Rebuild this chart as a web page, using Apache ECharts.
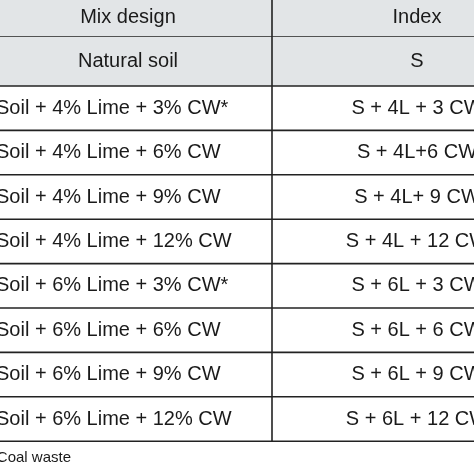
<!DOCTYPE html><html><head><meta charset="utf-8"><script src="https://cdn.jsdelivr.net/npm/echarts@6/dist/echarts.min.js"></script>
<style>html,body{margin:0;padding:0;background:#fff}#c{width:474px;height:474px}</style></head><body><div id="c"></div>
<script>
const headers = ["Mix design", "Index"];
const mixDesign = ["Natural soil","Soil + 4% Lime + 3% CW*","Soil + 4% Lime + 6% CW","Soil + 4% Lime + 9% CW","Soil + 4% Lime + 12% CW","Soil + 6% Lime + 3% CW*","Soil + 6% Lime + 6% CW","Soil + 6% Lime + 9% CW","Soil + 6% Lime + 12% CW"];
const indexCol = ["S","S + 4L + 3 CW","S + 4L+6 CW","S + 4L+ 9 CW","S + 4L + 12 CW","S + 6L + 3 CW","S + 6L + 6 CW","S + 6L + 9 CW","S + 6L + 12 CW"];
const footnote = "*Coal waste";

const FONT = '"Liberation Sans Narrow","Arial Narrow",sans-serif';
const rowsData = [["h", headers[0], headers[1]]].concat(mixDesign.map((m,i)=>[i, m, indexCol[i]]));
function rowTop(k){ // k: 0 header, 1 natural, 2.. data
  if(k===0) return -2; if(k===1) return 37; return 86 + (k-2)*44.4;
}
function rowBot(k){ if(k===0) return 37; if(k===1) return 86; return 86 + (k-1)*44.4; }
const chart = echarts.init(document.getElementById('c'));
chart.setOption({
  animation:false,
  grid:{left:0,right:0,top:0,bottom:0},
  xAxis:{type:'value',min:0,max:474,show:false},
  yAxis:{type:'value',min:0,max:474,inverse:true,show:false},
  series:[{
    type:'custom',
    data: rowsData.map((r,k)=>[k, r[1], r[2]]),
    renderItem:(params, api)=>{
      const k = api.value(0);
      const r = rowsData[k];
      const p0 = api.coord([0, rowTop(k)]);
      const p1 = api.coord([474, rowBot(k)]);
      const div = api.coord([272, 0])[0];
      const cy = (p0[1]+p1[1])/2;
      const gray = k<2;
      const children = [];
      if(gray) children.push({type:'rect',shape:{x:0,y:p0[1],width:474,height:p1[1]-p0[1]},style:{fill:'#e2e5e7'}});
      children.push({type:'line',shape:{x1:0,y1:p1[1],x2:474,y2:p1[1]},style:{stroke:'#222',lineWidth:1.6}});
      children.push({type:'line',shape:{x1:div,y1:p0[1],x2:div,y2:p1[1]},style:{stroke:'#222',lineWidth:1.6}});
      children.push({type:'text',style:{text:r[1],x: gray?128:-4,y:cy,align: gray?'center':'left',verticalAlign:'middle',font:'20px '+FONT,fill:'#1a1a1a'}});
      children.push({type:'text',style:{text:r[2],x:417,y:cy,align:'center',verticalAlign:'middle',font:'20px '+FONT,fill:'#1a1a1a'}});
      return {type:'group',children};
    }
  }],
  graphic:[{type:'text',left:-9,top:450,style:{text:footnote,font:'15px '+FONT,fill:'#1a1a1a'}}]
});
</script></body></html>
